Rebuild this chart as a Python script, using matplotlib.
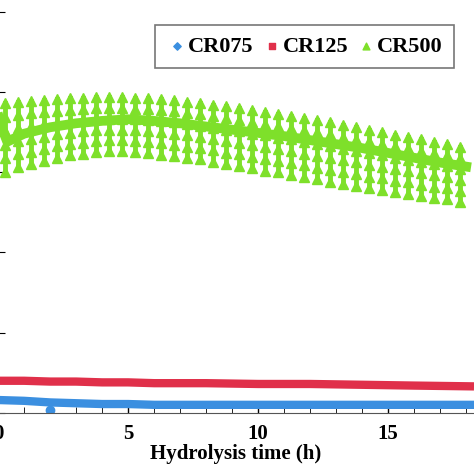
import matplotlib
matplotlib.use("Agg")
import matplotlib.pyplot as plt
import numpy as np

# CR500 envelope at half-hour spikes (top / bottom) and central band
spike_t = np.arange(0.25, 18.1, 0.5)
cr500_top = [3.86, 3.88, 3.89, 3.90, 3.91, 3.92, 3.93, 3.94, 3.94, 3.94, 3.93, 3.92,
             3.91, 3.90, 3.88, 3.86, 3.84, 3.82, 3.80, 3.77, 3.75, 3.72, 3.70, 3.67,
             3.65, 3.62, 3.59, 3.56, 3.53, 3.50, 3.47, 3.44, 3.41, 3.38, 3.35, 3.32]
cr500_bot = [3.00, 3.06, 3.10, 3.14, 3.18, 3.21, 3.23, 3.25, 3.26, 3.26, 3.25, 3.24,
             3.22, 3.20, 3.18, 3.16, 3.13, 3.10, 3.08, 3.05, 3.02, 3.00, 2.97, 2.94,
             2.91, 2.88, 2.85, 2.83, 2.80, 2.78, 2.75, 2.73, 2.70, 2.68, 2.66, 2.63]
mid_t = [0.0, 0.15, 0.35, 1, 2, 3, 4, 5, 6, 7, 8, 9, 10, 11, 12, 13, 14, 15, 16, 17, 18]
cr500_mid = [3.72, 3.55, 3.38, 3.48, 3.56, 3.61, 3.64, 3.66, 3.64, 3.61, 3.57, 3.53,
             3.49, 3.45, 3.40, 3.35, 3.30, 3.24, 3.18, 3.12, 3.07]
line_t = [0, 1, 2, 3, 4, 5, 6, 8, 10, 12, 14, 16, 18.3]
cr125 = [0.40, 0.40, 0.39, 0.39, 0.38, 0.38, 0.37, 0.37, 0.36, 0.36, 0.35, 0.34, 0.33]
cr075 = [0.16, 0.15, 0.13, 0.12, 0.11, 0.11, 0.10, 0.10, 0.10, 0.10, 0.10, 0.10, 0.10]

green = "#7ee02a"
red = "#e0304a"
blue = "#3b8fe0"

plt.rcParams["font.family"] = ["Liberation Serif", "DejaVu Serif"]
fig = plt.figure(figsize=(4.74, 4.74), dpi=100)
ax = fig.add_axes([-0.004, 0.129, 1.004, 0.88])

ax.plot(line_t, cr075, color=blue, lw=6, solid_capstyle="butt")
ax.plot([2.0], [0.03], "o", color=blue, ms=6)
ax.plot(line_t, cr125, color=red, lw=6, solid_capstyle="butt")
ax.plot(mid_t, cr500_mid, color=green, lw=7)
for t, lo, hi in zip(spike_t, cr500_bot, cr500_top):
    ax.plot([t, t], [lo, hi], color=green, lw=3.5)
    ax.plot([t] * 6, np.linspace(lo, hi, 6), "^", color=green, ms=7, mec=green)

h1 = ax.scatter([], [], marker="D", color=blue, s=14)
h2 = ax.scatter([], [], marker="s", color=red, s=18)
h3 = ax.scatter([], [], marker="^", color=green, s=24)
leg = ax.legend([h1, h2, h3], ["CR075", "CR125", "CR500"], loc="upper right",
                ncol=3, bbox_to_anchor=(0.972, 0.945), handletextpad=0.0,
                handlelength=1.0, columnspacing=0.3, fancybox=False,
                edgecolor="#555555", prop={"weight": "bold", "size": 16},
                borderpad=0.5, borderaxespad=0.3)
leg.get_frame().set_linewidth(1.2)

ax.set_xlim(0, 18.3)
ax.set_ylim(0, 5.2)
ax.set_xticks([0, 5, 10, 15])
ax.set_xticks(np.arange(0, 19, 1), minor=True)
ax.set_yticks([0, 1, 2, 3, 4, 5])
ax.set_yticklabels([])
for lab in ax.get_xticklabels():
    lab.set_fontweight("bold")
    lab.set_fontsize(15)
ax.tick_params(axis="x", direction="in", length=6, width=1, pad=8)
ax.tick_params(axis="x", which="minor", direction="in", length=4)
ax.tick_params(axis="y", direction="in", length=5)
ax.spines["top"].set_visible(False)
ax.spines["right"].set_visible(False)
ax.spines["bottom"].set_color("#555555")
ax.set_xlabel("Hydrolysis time (h)", fontsize=15, fontweight="bold", labelpad=0)

fig.savefig("out.png", dpi=100)
